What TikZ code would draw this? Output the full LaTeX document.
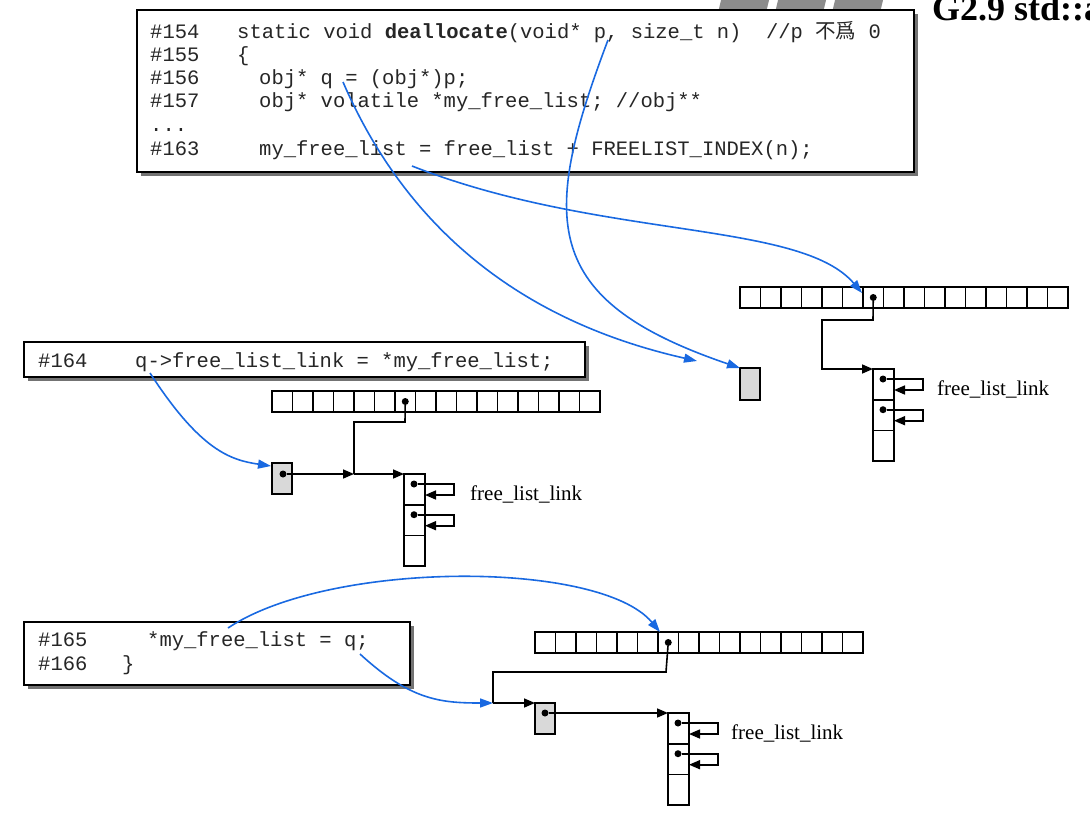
\documentclass[tikz,border=0pt]{standalone}
\usepackage{fontspec}
\setmainfont{Liberation Serif}
\newfontfamily\codef{Liberation Mono}
\newfontfamily\cjk{Noto Sans CJK TC}
\usetikzlibrary{arrows.meta}
\definecolor{arrowblue}{RGB}{25,105,225}
\tikzset{
  codebox/.style={draw=black,line width=1.8pt,fill=white},
  shadow/.style={fill=black!55},
  code/.style={anchor=base west,inner sep=0,font=\codef\fontsize{20.5}{20.5}\selectfont,text=black!85},
  cell/.style={draw=black,line width=1.6pt},
  gray/.style={draw=black,line width=1.6pt,fill=black!15},
  blk/.style={-{Triangle[length=11pt,width=9pt]},line width=1.6pt},
  blue/.style={draw=arrowblue,line width=1.6pt,-{Triangle[length=13pt,width=9pt]}},
  lbl/.style={anchor=west,inner sep=0,font=\fontsize{21}{21}\selectfont},
  dot/.style={circle,fill=black,inner sep=0,minimum size=7pt}
}
\newcommand{\farray}[3]{% x, y, name
  \foreach \i in {0,...,15}{\draw[cell] ({#1+\i*20.5},#2) rectangle ++(20.5,21);}
  \node[dot] (#3) at ({#1+6.5*20.5},{#2+10.5}) {};
}
\newcommand{\fblock}[3]{% x,y,prefix
  \foreach \i in {0,1,2}{\draw[cell] (#1,{#2+\i*30.7}) rectangle ++(21,30.7);}
  \node[dot] (#3a) at ({#1+10},{#2+10}) {};
  \node[dot] (#3b) at ({#1+10},{#2+40.7}) {};
  \coordinate (#3top) at (#1,#2);
  \draw[blk] (#3a) -- ++(40,0) |- ({#1+21},{#2+21});
  \draw[blk] (#3b) -- ++(40,0) |- ({#1+21},{#2+51.7});
}
\begin{document}
\begin{tikzpicture}[x=1pt,y=-1pt]
\useasboundingbox (0,0) rectangle (1090,817);
\begin{scope}
\clip (0,0) rectangle (1090,817);
% header
\foreach \xx in {722,779,836}{\fill[black!45] (\xx,-4) -- ++(48,0) -- ++(-5,21) -- ++(-48,0) -- cycle;}
\node[anchor=base west,inner sep=0,font=\bfseries\fontsize{36}{36}\selectfont] at (932,20) {G2.9 std::alloc};
\end{scope}
% code box 1
\fill[shadow] (141,14) rectangle (918,176);
\draw[codebox] (137,10) rectangle (914,172);
\node[code] at (150,38) {\#154};
\node[code] (l154) at (237,38) {static void \textbf{deallocate}(void* p, size\_t n)\ \ //p {\cjk 不爲} 0};
\node[code] at (150,61) {\#155};
\node[code] at (237,61) {\{};
\node[code] at (150,84) {\#156};
\node[code] at (259,84) {obj* q = (obj*)p;};
\node[code] at (150,107) {\#157};
\node[code] at (259,107) {obj* volatile *my\_free\_list; //obj**};
\node[code] at (150,131) {...};
\node[code] at (150,155) {\#163};
\node[code] at (259,155) {my\_free\_list = free\_list + FREELIST\_INDEX(n);};
\coordinate (qA) at (343,82);
\coordinate (pA) at (608,40);
\coordinate (mA) at (412,166);
% top-right
\farray{740}{287}{d1}
\fblock{873}{369}{b1}
\draw[blk] (d1) -- (873,320) -- (822,320) -- (822,369) -- (b1top);
\node[lbl] at (937,389) {free\_list\_link};
\draw[gray] (740,368) rectangle (760,400);
\coordinate (g1) at (740,368);
\draw[blue] (qA) .. controls (420,260) and (560,330) .. (697,361);
\draw[blue] (pA) .. controls (540,220) and (540,300) .. (g1);
\draw[blue] (mA) .. controls (600,240) and (800,220) .. (862,293);
% box 164
\fill[shadow] (28,346) rectangle (589,381);
\draw[codebox] (24,342) rectangle (585,377);
\node[code] at (38,367) {\#164};
\node[code] at (135,367) {q->free\_list\_link = *my\_free\_list;};
\coordinate (qB) at (150,373);
\farray{272}{391}{d2}
\draw[gray] (272,463) rectangle (292,494);
\node[dot] (g2) at (283,474) {};
\coordinate (j2) at (354,474);
\fblock{404}{474}{b2}
\draw[blk] (g2) -- (j2);
\draw[blk] (j2) -- (404,474);
\draw[line width=1.6pt] (d2) -- (405,422) -- (354,422) -- (j2);
\node[lbl] at (470,494) {free\_list\_link};
\draw[blue] (qB) .. controls (200,450) and (230,460) .. (271,466);
% box 165
\fill[shadow] (28,626) rectangle (414,689);
\draw[codebox] (24,622) rectangle (410,685);
\node[code] at (38,646) {\#165};
\node[code] at (147,646) {*my\_free\_list = q;};
\node[code] at (38,670) {\#166};
\node[code] at (122,670) {\}};
\coordinate (mC) at (228,628);
\coordinate (qC) at (360,654);
\farray{535}{632}{d3}
\coordinate (j3) at (493,703);
\draw[line width=1.6pt] (d3) -- (666,672) -- (493,672) -- (j3);
\draw[blk] (j3) -- (535,703);
\draw[gray] (535,703) rectangle (555,734);
\node[dot] (g3) at (545,713) {};
\fblock{668}{713}{b3}
\draw[blk] (g3) -- (668,713);
\node[lbl] at (731,733) {free\_list\_link};
\draw[blue] (mC) .. controls (330,560) and (600,560) .. (660,632);
\draw[blue] (qC) .. controls (410,700) and (440,703) .. (j3);
\end{tikzpicture}
\end{document}
